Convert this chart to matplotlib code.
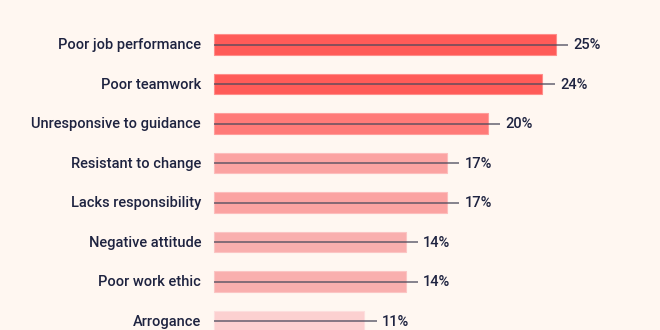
import matplotlib
matplotlib.use("Agg")
import matplotlib.pyplot as plt

categories = ["Poor job performance", "Poor teamwork", "Unresponsive to guidance",
              "Resistant to change", "Lacks responsibility", "Negative attitude",
              "Poor work ethic", "Arrogance"]
values = [25, 24, 20, 17, 17, 14, 14, 11]
colors = ["#FF5B58", "#FF5B58", "#FF7A78", "#FBA3A2", "#FBA3A2", "#F9AFAE", "#F9AFAE", "#FCD0D0"]
edges = ["#FF8D8A", "#FF8D8A", "#FF9D9B", "#FDBDBC", "#FDBDBC", "#FBC5C4", "#FBC5C4", "#FDDEDE"]

bg = "#FFF7F1"
text_color = "#1E2340"
plt.rcParams['font.family'] = ['Roboto', 'DejaVu Sans']

fig = plt.figure(figsize=(6.6, 3.3), dpi=100, facecolor=bg)
ax = fig.add_axes([0, 0, 1, 1])
ax.set_facecolor(bg)

ppu = 13.68  # pixels per percent
x0 = 214
ax.set_xlim(-x0 / ppu, (660 - x0) / ppu)
ax.set_ylim((330 - 44.5) / 39.5, -44.5 / 39.5)

ys = list(range(len(categories)))
ax.barh(ys, values, height=0.53, color=colors, edgecolor=edges, linewidth=0.8, zorder=1)
for y, v, c in zip(ys, values, categories):
    ax.plot([0, v + 0.9], [y, y], color="#4A4A5C", lw=1.1, alpha=0.85, zorder=2,
            solid_capstyle="butt")
    ax.text(v + 1.3, y + 0.02, f"{v}%", ha="left", va="center", fontsize=10.5, color=text_color,
            fontweight="medium")
    ax.text(-0.95, y + 0.02, c, ha="right", va="center", fontsize=10.5, color=text_color,
            fontweight="medium")

ax.axis("off")
fig.savefig("out.png", dpi=100, facecolor=bg)
